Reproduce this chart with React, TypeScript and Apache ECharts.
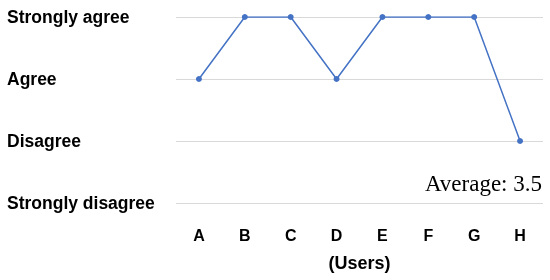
import React, { useEffect, useRef } from "react";
import * as echarts from "echarts";

const users = ["A", "B", "C", "D", "E", "F", "G", "H"];
const responses = [3, 4, 4, 3, 4, 4, 4, 2];
const levelLabels = ["", "Strongly disagree", "Disagree", "Agree", "Strongly agree"];

export default function App() {
  const ref = useRef<HTMLDivElement>(null);
  useEffect(() => {
    if (!ref.current) return;
    const chart = echarts.init(ref.current, null, { renderer: "svg" });
    const avg = responses.reduce((a, b) => a + b, 0) / responses.length;
    const font = "Liberation Sans, Arial, Helvetica, sans-serif";
    chart.setOption({
      animation: false,
      grid: { left: 176, right: 7, top: 17, bottom: 77 },
      xAxis: {
        type: "category",
        data: users,
        boundaryGap: true,
        axisLine: { show: false },
        axisTick: { show: false },
        axisLabel: {
          margin: 24,
          color: "#000",
          fontWeight: "bold",
          fontSize: 16,
          fontFamily: font,
        },
        name: "(Users)",
        nameLocation: "middle",
        nameGap: 51,
        nameTextStyle: {
          color: "#000",
          fontWeight: "bold",
          fontSize: 18,
          fontFamily: font,
        },
      },
      yAxis: {
        type: "value",
        min: 1,
        max: 4,
        interval: 1,
        axisLine: { show: false },
        axisTick: { show: false },
        splitLine: { lineStyle: { color: "#d9d9d9", width: 1 } },
        axisLabel: {
          align: "left",
          margin: 169,
          color: "#000",
          fontWeight: "bold",
          fontSize: 17.5,
          fontFamily: font,
          padding: [4, 0, 0, 0],
          formatter: (v: number) => levelLabels[v] || "",
        },
      },
      series: [
        {
          type: "line",
          data: responses,
          symbol: "circle",
          symbolSize: 6,
          lineStyle: { color: "#4472C4", width: 1.5 },
          itemStyle: { color: "#4472C4" },
        },
      ],
      graphic: [
        {
          type: "text",
          right: 8,
          top: 172,
          style: {
            text: "Average: " + avg.toFixed(1),
            fill: "#000",
            fontSize: 23,
            fontFamily: "Liberation Serif, Times New Roman, serif",
          },
        },
      ],
    });
    return () => chart.dispose();
  }, []);
  return (
    <div
      ref={ref}
      style={{ position: "fixed", left: 0, top: 0, width: 550, height: 280 }}
    />
  );
}
